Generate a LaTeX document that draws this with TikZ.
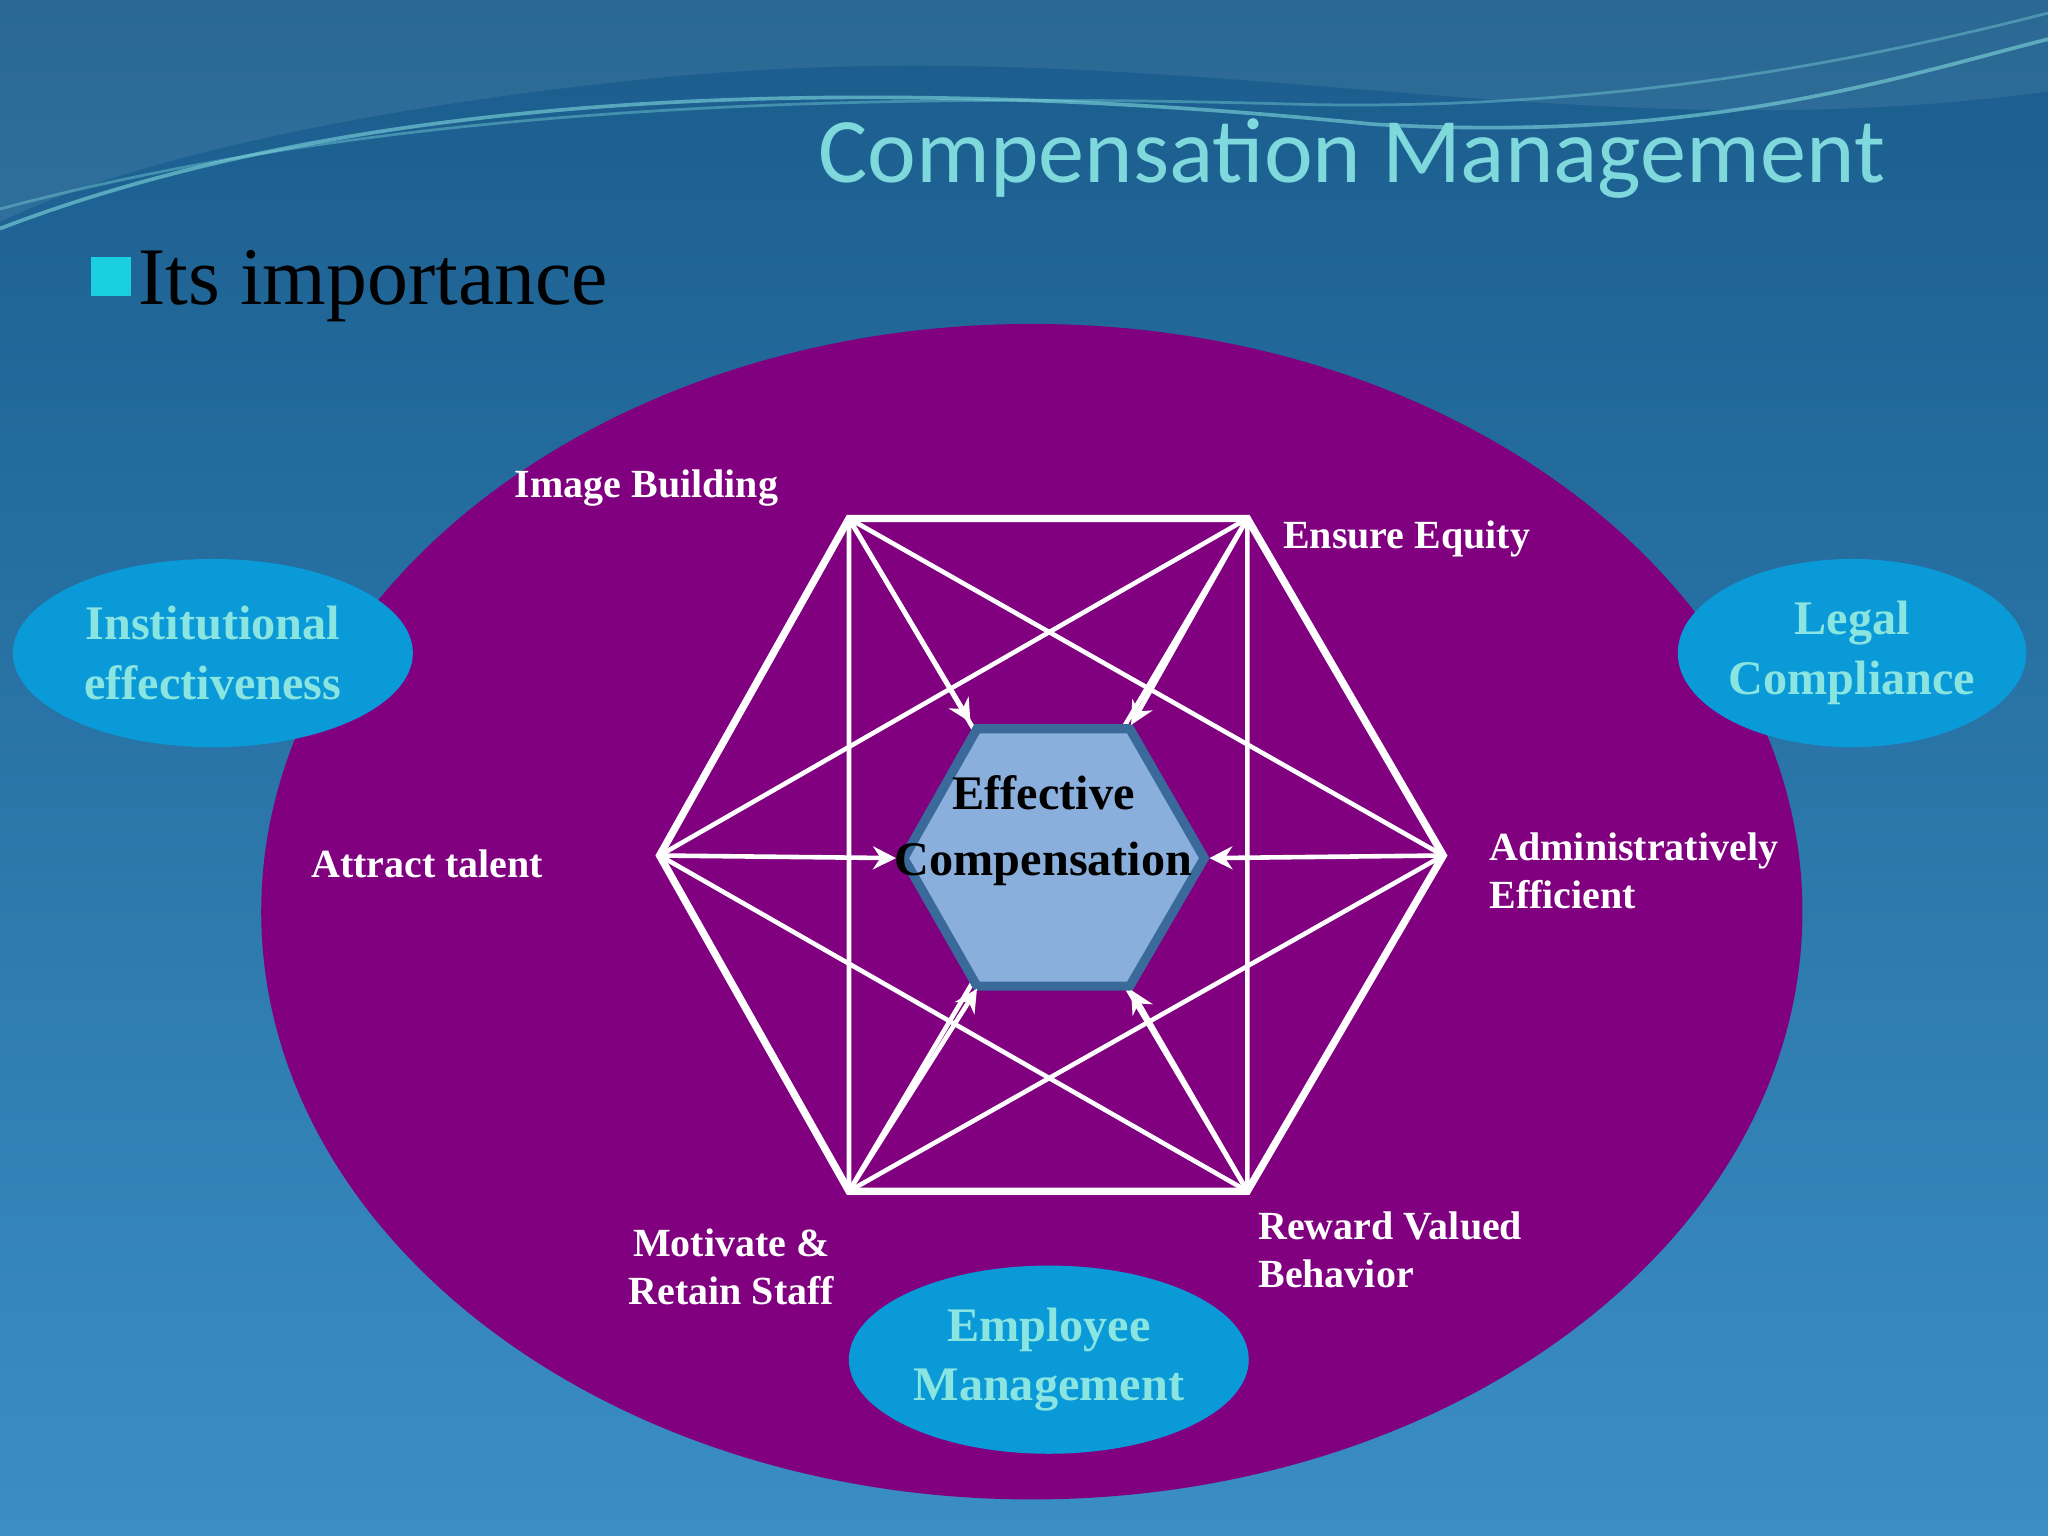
\documentclass[tikz,border=0pt]{standalone}
\usepackage{fontspec}
\setmainfont{Liberation Serif}
\newfontfamily\titlefont{Carlito}
\usetikzlibrary{arrows.meta,shapes.geometric}
\definecolor{bgtop}{HTML}{1A5C8C}
\definecolor{bgbot}{HTML}{3A8EC4}
\definecolor{purp}{HTML}{800080}
\definecolor{blueell}{HTML}{0A9AD8}
\definecolor{celltext}{HTML}{8AE4E0}
\definecolor{hexfill}{HTML}{8AAFDC}
\definecolor{hexdraw}{HTML}{3A6A9A}
\definecolor{titlec}{HTML}{7FD8DC}
\definecolor{bulletc}{HTML}{1ACFDF}
\tikzset{
  lbl/.style={text=white,font=\fontsize{8.7pt}{10.5pt}\selectfont\bfseries,align=left},
  bell/.style={ellipse,fill=blueell,text=celltext,font=\fontsize{10.5pt}{13pt}\selectfont\bfseries,align=center,inner sep=0pt},
  hexline/.style={white,line width=1.6pt},
  inline/.style={white,line width=1pt},
  arr/.style={white,line width=1pt,-{Stealth[length=5pt,width=5pt]}}
}
\begin{document}
\begin{tikzpicture}[x=0.01cm,y=-0.01cm]
\useasboundingbox (0,0) rectangle (1568,1176);
\shade[top color=bgtop,bottom color=bgbot] (0,0) rectangle (1568,1176);
% top waves
\fill[white,opacity=0.08] (0,0) -- (1568,0) -- (1568,70) .. controls (1200,120) and (900,20) .. (500,60) .. controls (250,85) and (80,130) .. (0,170) -- cycle;
\draw[titlec,opacity=0.6,line width=0.8pt] (0,175) .. controls (300,60) and (700,60) .. (1050,95) .. controls (1300,110) and (1450,60) .. (1568,30);
\draw[titlec,opacity=0.4,line width=0.6pt] (0,160) .. controls (300,80) and (650,70) .. (1000,80) .. controls (1250,85) and (1450,40) .. (1568,10);
\node (title) at (1035,121) {\titlefont\fontsize{20.1pt}{24pt}\selectfont\color{titlec}Compensation Management};
\fill[bulletc] (70,197) rectangle (100,227);
\node[anchor=west,inner sep=0] (imp) at (105,219) {\fontsize{17.8pt}{20pt}\selectfont Its importance};
% purple ellipse
\fill[purp] (790,698) ellipse [x radius=590,y radius=450];
% hexagon vertices
\coordinate (A) at (650,397);
\coordinate (B) at (955,397);
\coordinate (C) at (1105,655);
\coordinate (D) at (955,912);
\coordinate (E) at (650,912);
\coordinate (F) at (505,655);
\draw[hexline] (A)--(B)--(C)--(D)--(E)--(F)--cycle;
\draw[inline] (A)--(C) (A)--(E) (A)--(D);
\draw[inline] (B)--(F) (B)--(D) (B)--(E);
\draw[inline] (C)--(E) (F)--(D);
% center hex
\coordinate (a) at (748,558);
\coordinate (b) at (865,558);
\coordinate (c) at (922,657);
\coordinate (d) at (865,755);
\coordinate (e) at (748,755);
\coordinate (f) at (692,657);
\filldraw[fill=hexfill,draw=hexdraw,line width=2pt] (a)--(b)--(c)--(d)--(e)--(f)--cycle;
\draw[arr] (A) -- (743,553);
\draw[arr] (B) -- (866,555);
\draw[arr] (F) -- (686,657);
\draw[arr] (C) -- (926,657);
\draw[arr] (E) -- (748,757);
\draw[arr] (D) -- (866,758);
\node[align=center,font=\fontsize{10.5pt}{14.5pt}\selectfont\bfseries] (ctr) at (799,636) {Effective\\Compensation};
% labels
\node[lbl] (l1) at (495,374) {Image Building};
\node[lbl] (l2) at (1077,413) {Ensure Equity};
\node[lbl,anchor=west] (l3) at (1128,667) {Administratively\\Efficient};
\node[lbl] (l4) at (327,661) {Attract talent};
\node[lbl,align=center] (l5) at (560,970) {Motivate \&\\Retain Staff};
\node[lbl,anchor=west] (l6) at (951,957) {Reward Valued\\Behavior};
% blue ellipses
\node[bell,minimum width=3.06cm,minimum height=1.44cm] (ie) at (163,500) {Institutional\\effectiveness};
\node[bell,minimum width=2.54cm,minimum height=1.44cm] (lc) at (1418,500) {Legal\\Compliance};
\node[bell,minimum width=3.06cm,minimum height=1.44cm] (em) at (803,1041) {Employee\\Management};
\end{tikzpicture}
\end{document}
